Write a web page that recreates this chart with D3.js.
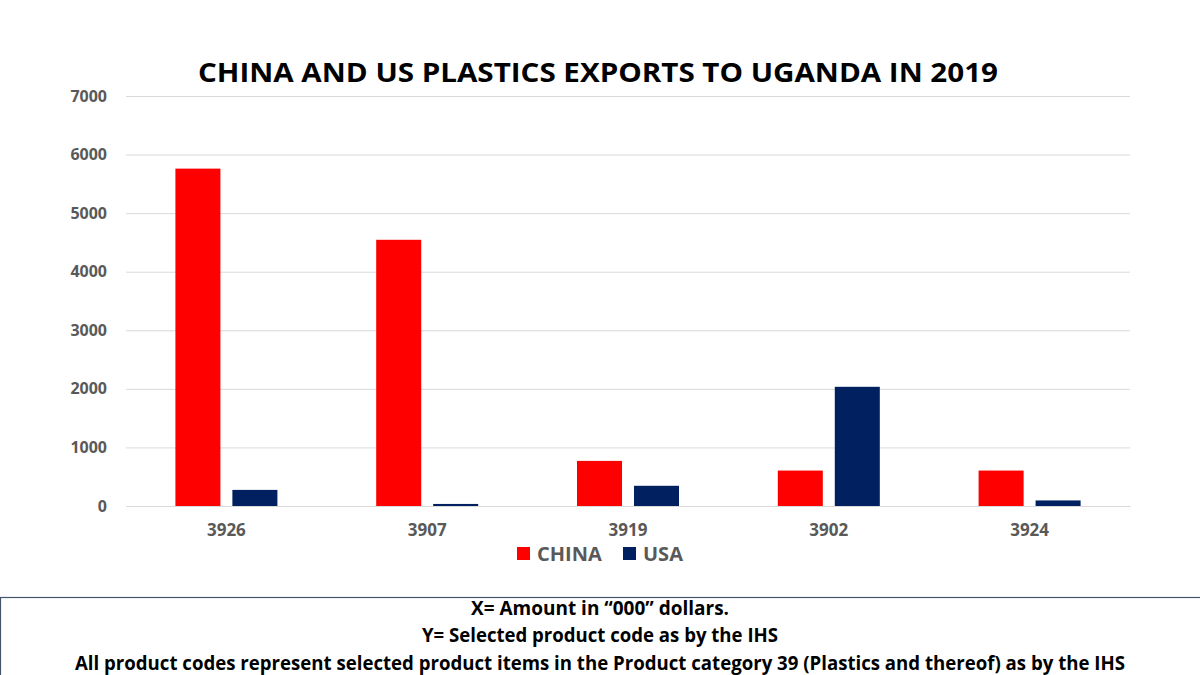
<!DOCTYPE html>
<html>
<head>
<meta charset="utf-8">
<script src="https://cdn.jsdelivr.net/npm/d3@7"></script>
<style>
  body { margin: 0; background: #fff; }
  svg { display: block; }
</style>
</head>
<body>
<script>
// Data (thousands of dollars)
const codes = ["3926", "3907", "3919", "3902", "3924"];
const china = [5760, 4545, 770, 605, 605];
const usa = [275, 35, 345, 2035, 95];
const seriesNames = ["CHINA", "USA"];
const colors = ["#ff0000", "#002060"];
const yTicks = [0, 1000, 2000, 3000, 4000, 5000, 6000, 7000];
const notes = [
  "X= Amount in \u201c000\u201d dollars.",
  "Y= Selected product code as by the IHS",
  "All product codes represent selected product items in the Product category 39 (Plastics and thereof) as by the IHS"
];

const width = 1200, height = 675;
const margin = { top: 96, right: 70, bottom: 169, left: 126 };
const labelFont = "'Open Sans', sans-serif";

const svg = d3.select("body").append("svg")
  .attr("width", width)
  .attr("height", height)
  .attr("viewBox", [0, 0, width, height]);

const x0 = d3.scaleBand()
  .domain(codes)
  .range([margin.left, width - margin.right]);

const x1 = d3.scaleBand()
  .domain(seriesNames)
  .range([x0.bandwidth() / 2 - 51, x0.bandwidth() / 2 + 51])
  .paddingInner(0.21);

const y = d3.scaleLinear()
  .domain([0, 7000])
  .range([height - margin.bottom, margin.top]);

// Title
svg.append("text")
  .attr("x", 598)
  .attr("y", 82)
  .attr("text-anchor", "middle")
  .attr("font-family", labelFont)
  .attr("font-weight", 700)
  .attr("font-size", 26)
  .attr("textLength", 800)
  .attr("lengthAdjust", "spacingAndGlyphs")
  .attr("fill", "#000")
  .text("CHINA AND US PLASTICS EXPORTS TO UGANDA IN 2019");

// Grid + y axis labels
svg.append("g")
  .attr("transform", `translate(${margin.left},0)`)
  .call(d3.axisLeft(y)
    .tickValues(yTicks)
    .tickFormat(d3.format("d"))
    .tickSize(-(width - margin.left - margin.right))
    .tickPadding(19))
  .call((g) => g.select(".domain").remove())
  .call((g) => g.selectAll(".tick line").attr("stroke", "#d9d9d9"))
  .call((g) => g.selectAll(".tick text")
    .attr("font-family", labelFont)
    .attr("font-weight", 700)
    .attr("font-size", 16)
    .attr("fill", "#595959"));

// Bars
const rows = codes.map((c, i) => ({ code: c, values: [china[i], usa[i]] }));

svg.append("g")
  .selectAll("g")
  .data(rows)
  .join("g")
  .attr("transform", (d) => `translate(${x0(d.code)},0)`)
  .selectAll("rect")
  .data((d) => d.values.map((v, j) => ({ key: seriesNames[j], value: v, color: colors[j] })))
  .join("rect")
  .attr("x", (d) => x1(d.key))
  .attr("width", x1.bandwidth())
  .attr("y", (d) => y(d.value))
  .attr("height", (d) => y(0) - y(d.value))
  .attr("fill", (d) => d.color);

// x axis labels
svg.append("g")
  .attr("transform", `translate(0,${y(0)})`)
  .call(d3.axisBottom(x0).tickSize(0).tickPadding(18))
  .call((g) => g.select(".domain").attr("stroke", "#d9d9d9"))
  .call((g) => g.selectAll(".tick text")
    .attr("font-family", labelFont)
    .attr("font-weight", 700)
    .attr("font-size", 17)
    .attr("fill", "#595959"));

// Legend
const legendX = [517, 623];
const legend = svg.append("g")
  .selectAll("g")
  .data(seriesNames)
  .join("g")
  .attr("transform", (d, i) => `translate(${legendX[i]},547)`);

legend.append("rect")
  .attr("width", 13)
  .attr("height", 13)
  .attr("fill", (d, i) => colors[i]);

legend.append("text")
  .attr("x", 20)
  .attr("y", 14)
  .attr("font-family", labelFont)
  .attr("font-weight", 700)
  .attr("font-size", 20)
  .attr("fill", "#595959")
  .text((d) => d);

// Notes box
svg.append("rect")
  .attr("x", 0.5)
  .attr("y", 597.5)
  .attr("width", width + 10)
  .attr("height", 100)
  .attr("fill", "none")
  .attr("stroke", "#44546a")
  .attr("stroke-width", 1.2);

const noteLengths = [258, 356, 1050];
const noteY = [615, 642, 670];
svg.append("g")
  .selectAll("text")
  .data(notes)
  .join("text")
  .attr("x", 600)
  .attr("y", (d, i) => noteY[i])
  .attr("text-anchor", "middle")
  .attr("font-family", labelFont)
  .attr("font-weight", 700)
  .attr("font-size", 19)
  .attr("textLength", (d, i) => noteLengths[i])
  .attr("lengthAdjust", "spacingAndGlyphs")
  .attr("fill", "#000")
  .text((d) => d);
</script>
</body>
</html>
